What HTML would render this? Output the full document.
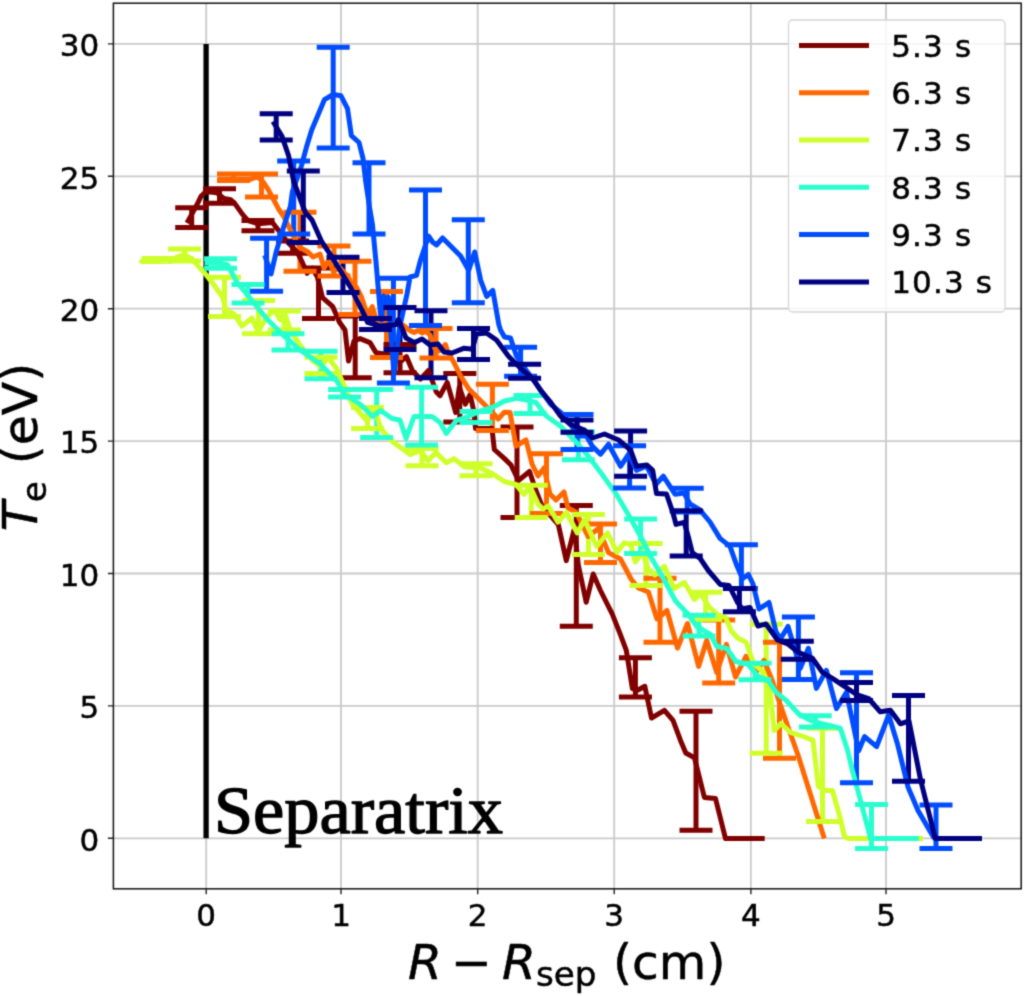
<!DOCTYPE html>
<html lang="en"><head><meta charset="utf-8"><title>Te profile</title>
<style>html,body{margin:0;padding:0;background:#fff}body{width:1025px;height:996px;overflow:hidden}svg{display:block}text{font-family:"DejaVu Sans","Liberation Sans",sans-serif;fill:#000;stroke:#000;stroke-width:0.5px;stroke-linejoin:round}text.ser{font-family:"Liberation Serif","DejaVu Serif",serif;stroke-width:1.3px}</style></head><body>
<svg width="1025" height="996" viewBox="0 0 1025 996">
<defs><filter id="soft" x="0" y="0" width="1025" height="996" filterUnits="userSpaceOnUse" color-interpolation-filters="sRGB"><feConvolveMatrix order="3" kernelMatrix="0.0289 0.1122 0.0289 0.1122 0.4356 0.1122 0.0289 0.1122 0.0289" divisor="1" edgeMode="duplicate" preserveAlpha="true"/></filter></defs>
<rect width="1025" height="996" fill="#fff"/>
<g filter="url(#soft)">
<rect width="1025" height="996" fill="#fff"/>
<path d="M206.2 3.2V888.8M341.0 3.2V888.8M477.7 3.2V888.8M614.2 3.2V888.8M750.9 3.2V888.8M886.0 3.2V888.8M113.4 838.3H1021.2M113.4 705.9H1021.2M113.4 573.5H1021.2M113.4 441.1H1021.2M113.4 308.7H1021.2M113.4 176.3H1021.2M113.4 43.9H1021.2" stroke="#cacaca" stroke-width="1.8" fill="none"/>
<path d="M206.1 43.9V838.3" stroke="#000" stroke-width="5.3" fill="none"/>
<text class="ser" x="214" y="832.5" font-size="67" textLength="289" lengthAdjust="spacingAndGlyphs" fill="#000" stroke="#000" stroke-width="1.3">Separatrix</text>
<path d="M191.7 207.8V227.4M219.5 188.8V203.2M258.0 220.6V230.8M292.6 241.0V253.3M318.5 268.0V318.5M355.2 316.0V377.7M400.0 344.6V372.7M459.8 373.5V422.0M517.0 427.1V517.5M576.3 505.4V626.3M635.4 657.8V697.0M696.0 711.3V830.2" stroke="#800000" stroke-width="5.0" fill="none"/>
<path d="M233.5 174.0V180.6M261.5 174.0V196.9M300.0 212.3V271.3M334.0 245.9V276.0M355.0 261.2V314.5M386.5 291.4V357.6M436.0 328.5V358.0M492.4 384.3V430.5M546.5 453.7V513.5M600.5 523.9V562.5M660.0 578.3V642.3M718.7 620.0V683.0M779.5 642.2V758.3" stroke="#ff6800" stroke-width="5.0" fill="none"/>
<path d="M184.6 249.0V261.0M224.5 277.3V316.5M258.5 300.5V333.8M284.3 311.0V330.0M321.0 357.3V373.4M367.6 407.5V428.6M422.0 448.6V465.7M476.0 463.7V475.7M531.2 485.3V517.5M588.4 514.5V554.6M646.0 543.6V585.5M705.7 592.3V619.3M766.2 624.2V753.2M822.5 728.3V821.5" stroke="#ceff29" stroke-width="5.0" fill="none"/>
<path d="M220.6 258.7V268.3M248.0 284.4V303.0M288.0 333.8V349.9M321.0 351.3V378.8M344.6 389.4V397.0M376.7 389.4V437.6M421.6 387.3V445.0M476.0 411.4V422.5M530.0 395.4V413.5M578.4 432.0V459.8M640.6 519.1V553.6M699.0 615.2V635.9M755.0 663.3V679.8M815.3 715.7V727.1M871.5 804.4V848.6" stroke="#29ffce" stroke-width="5.0" fill="none"/>
<path d="M266.6 238.3V291.3M293.7 161.1V233.9M333.2 47.2V148.0M369.0 162.8V234.1M393.4 278.3V383.0M425.5 190.0V325.5M468.3 219.7V302.8M520.6 347.2V376.3M577.0 414.5V449.6M629.6 445.8V488.0M687.2 488.2V512.0M741.4 544.8V588.6M798.4 617.0V679.4M856.5 672.8V782.7M936.0 805.0V848.6" stroke="#004cff" stroke-width="5.0" fill="none"/>
<path d="M276.2 113.8V140.0M303.3 170.9V242.5M343.0 257.2V292.4M375.5 318.5V329.6M400.0 307.4V349.6M431.0 310.8V377.7M473.5 328.6V359.5M524.6 364.3V378.3M577.0 420.0V432.3M630.6 431.1V476.3M686.2 510.7V556.1M739.4 588.6V611.7M797.3 641.2V659.3M856.5 682.4V700.5M908.5 695.5V781.3" stroke="#000080" stroke-width="5.0" fill="none"/>
<g stroke="#800000" stroke-width="5.0" fill="none">
<path d="M187.0 223.0 L191.7 214.4 L196.4 205.8 L201.0 196.4 L205.5 192.0 L210.0 192.0 L217.0 192.8 L223.8 198.5 L230.8 199.8 L234.7 203.4 L242.5 214.4 L248.0 220.6 L258.0 223.8 L272.4 222.5 L278.8 230.8 L286.6 241.0 L296.8 251.4 L302.0 261.7 L307.1 273.3 L312.3 268.1 L317.4 277.1 L322.5 297.7 L332.8 306.7 L339.3 322.0 L345.0 330.0 L348.5 361.0 L354.0 341.0 L360.0 338.6 L370.0 342.6 L376.0 352.6 L390.0 354.6 L400.0 362.0 L406.4 356.6 L412.4 370.7 L420.5 379.0 L428.5 370.5 L436.3 392.0 L440.0 395.7 L447.2 382.4 L455.7 412.5 L459.3 387.2 L465.3 404.1 L470.1 394.5 L474.0 412.0 L475.5 428.5 L492.0 428.5 L494.3 449.5 L504.5 458.6 L511.0 465.0 L518.4 480.5 L524.0 476.0 L529.5 471.5 L536.3 491.5 L542.2 506.4 L550.0 515.0 L558.3 524.5 L566.3 560.6 L574.4 528.5 L578.3 565.0 L586.2 602.2 L593.2 574.0 L600.2 590.0 L612.3 614.2 L620.3 634.3 L626.3 650.4 L632.4 688.5 L638.0 690.0 L644.8 686.3 L651.5 718.0 L664.4 710.4 L673.0 720.4 L680.6 740.7 L685.8 753.0 L694.5 757.8 L704.4 797.5 L715.5 798.5 L725.5 838.6 L764.7 838.6" stroke-linejoin="round" stroke-linecap="butt"/>
<path d="M175.2 207.8h33.0M175.2 227.4h33.0M203.0 188.8h33.0M203.0 203.2h33.0M241.5 220.6h33.0M241.5 230.8h33.0M276.1 241.0h33.0M276.1 253.3h33.0M302.0 268.0h33.0M302.0 318.5h33.0M338.7 316.0h33.0M338.7 377.7h33.0M383.5 344.6h33.0M383.5 372.7h33.0M443.3 373.5h33.0M443.3 422.0h33.0M500.5 427.1h33.0M500.5 517.5h33.0M559.8 505.4h33.0M559.8 626.3h33.0M618.9 657.8h33.0M618.9 697.0h33.0M679.5 711.3h33.0M679.5 830.2h33.0"/>
</g>
<g stroke="#ff6800" stroke-width="5.0" fill="none">
<path d="M217.5 179.5 L250.0 179.5 L257.5 176.5 L263.5 182.4 L267.4 188.3 L273.3 199.0 L279.0 209.8 L283.4 216.0 L288.6 226.4 L294.0 237.0 L300.0 247.5 L308.0 252.0 L313.0 257.0 L320.0 254.0 L324.0 268.0 L329.0 259.5 L333.0 271.0 L340.0 268.0 L348.0 276.6 L351.8 284.0 L356.6 287.5 L361.4 297.0 L367.5 315.0 L372.3 306.7 L376.0 319.0 L380.0 321.0 L392.0 324.0 L403.3 325.3 L409.0 330.0 L414.0 332.5 L418.0 330.5 L422.0 333.0 L426.0 331.3 L430.0 335.0 L434.6 348.2 L439.0 351.0 L445.4 344.6 L447.8 351.8 L452.7 360.2 L460.4 375.5 L468.4 388.4 L476.4 396.4 L482.4 402.4 L492.4 412.4 L498.3 419.0 L504.3 412.2 L510.0 412.5 L516.0 446.0 L526.0 440.0 L532.0 464.0 L538.0 476.0 L544.0 468.0 L550.0 494.0 L556.0 500.0 L564.0 492.0 L568.0 508.0 L576.0 512.0 L588.0 536.5 L598.5 528.5 L608.5 552.6 L620.5 559.0 L631.0 579.0 L638.4 588.0 L648.4 592.0 L657.0 619.0 L667.0 610.5 L677.5 648.0 L687.5 623.5 L698.6 666.4 L706.7 640.3 L716.7 672.4 L726.4 644.3 L735.5 677.0 L746.0 656.3 L756.0 672.4 L764.0 660.3 L772.0 680.0 L780.0 704.0 L788.0 727.0 L798.0 755.0 L810.0 793.0 L824.3 838.6" stroke-linejoin="round" stroke-linecap="butt"/>
<path d="M217.0 174.0h33.0M217.0 180.6h33.0M245.0 174.0h33.0M245.0 196.9h33.0M283.5 212.3h33.0M283.5 271.3h33.0M317.5 245.9h33.0M317.5 276.0h33.0M338.5 261.2h33.0M338.5 314.5h33.0M370.0 291.4h33.0M370.0 357.6h33.0M419.5 328.5h33.0M419.5 358.0h33.0M475.9 384.3h33.0M475.9 430.5h33.0M530.0 453.7h33.0M530.0 513.5h33.0M584.0 523.9h33.0M584.0 562.5h33.0M643.5 578.3h33.0M643.5 642.3h33.0M702.2 620.0h33.0M702.2 683.0h33.0M763.0 642.2h33.0M763.0 758.3h33.0"/>
</g>
<g stroke="#ceff29" stroke-width="5.0" fill="none">
<path d="M141.6 258.4 L192.0 258.4 L141.6 261.6 L170.0 261.6 L177.0 257.0 L184.6 255.0 L192.0 259.0 L194.0 261.6 L204.5 272.8 L214.0 285.0 L222.5 297.0 L226.0 310.0 L234.0 314.0 L242.0 326.0 L252.0 318.0 L258.0 332.0 L266.0 318.0 L274.3 310.0 L280.3 320.0 L284.3 312.0 L290.4 330.2 L300.0 345.0 L312.4 360.3 L320.5 366.3 L328.5 358.3 L336.5 368.4 L352.6 404.5 L366.7 420.6 L374.7 408.5 L380.7 428.6 L392.4 441.6 L410.0 454.6 L420.0 450.6 L428.2 460.6 L436.0 452.6 L446.3 462.7 L454.0 458.6 L464.3 466.7 L480.4 468.0 L492.2 473.5 L504.3 481.5 L516.0 484.5 L524.0 494.4 L530.0 486.3 L538.2 504.4 L543.0 509.0 L548.4 505.9 L558.0 522.2 L566.5 512.5 L577.3 533.0 L584.6 519.8 L596.6 546.3 L607.5 533.0 L617.1 552.3 L624.3 542.7 L631.0 545.0 L635.2 561.9 L642.4 552.3 L648.4 569.2 L655.0 575.0 L664.3 566.3 L674.3 588.4 L684.4 582.4 L694.4 599.4 L700.4 593.3 L709.5 607.5 L717.5 614.5 L725.5 617.5 L731.6 631.5 L738.0 638.2 L746.0 642.2 L754.0 664.3 L762.0 670.4 L770.2 692.4 L774.2 730.6 L781.0 723.5 L790.2 732.3 L803.0 736.3 L813.0 740.4 L818.3 786.3 L824.3 790.4 L832.4 790.4 L840.4 818.5 L844.4 836.5 L848.4 838.6 L923.0 838.6" stroke-linejoin="round" stroke-linecap="butt"/>
<path d="M168.1 249.0h33.0M168.1 261.0h33.0M208.0 277.3h33.0M208.0 316.5h33.0M242.0 300.5h33.0M242.0 333.8h33.0M267.8 311.0h33.0M267.8 330.0h33.0M304.5 357.3h33.0M304.5 373.4h33.0M351.1 407.5h33.0M351.1 428.6h33.0M405.5 448.6h33.0M405.5 465.7h33.0M459.5 463.7h33.0M459.5 475.7h33.0M514.7 485.3h33.0M514.7 517.5h33.0M571.9 514.5h33.0M571.9 554.6h33.0M629.5 543.6h33.0M629.5 585.5h33.0M689.2 592.3h33.0M689.2 619.3h33.0M749.7 624.2h33.0M749.7 753.2h33.0M806.0 728.3h33.0M806.0 821.5h33.0"/>
</g>
<g stroke="#29ffce" stroke-width="5.0" fill="none">
<path d="M204.5 263.0 L220.6 263.5 L227.7 265.0 L236.7 281.8 L250.0 298.0 L266.0 318.0 L284.3 336.2 L300.4 350.3 L320.5 364.3 L336.5 380.4 L344.6 394.5 L360.6 404.5 L372.7 416.5 L380.7 410.5 L392.0 418.5 L400.0 420.0 L406.0 438.6 L414.0 416.5 L432.0 416.5 L440.0 422.5 L446.3 433.5 L456.3 420.5 L466.0 417.5 L480.4 411.0 L492.4 407.5 L504.5 401.0 L516.5 398.4 L528.0 400.4 L536.0 402.5 L546.3 416.0 L560.3 426.0 L574.4 440.2 L588.4 456.2 L600.5 472.3 L616.5 494.4 L630.6 518.5 L640.6 536.5 L651.5 558.0 L664.3 580.0 L675.5 601.0 L687.5 613.5 L696.6 626.3 L710.5 634.5 L716.7 646.3 L727.0 648.6 L736.0 661.5 L748.0 664.3 L758.0 676.4 L768.0 680.4 L776.2 692.4 L786.3 700.5 L799.0 714.2 L810.3 720.3 L824.3 724.3 L840.4 728.3 L847.5 750.0 L852.4 770.3 L860.5 800.4 L868.5 830.5 L870.5 838.6 L918.7 838.6" stroke-linejoin="round" stroke-linecap="butt"/>
<path d="M204.1 258.7h33.0M204.1 268.3h33.0M231.5 284.4h33.0M231.5 303.0h33.0M271.5 333.8h33.0M271.5 349.9h33.0M304.5 351.3h33.0M304.5 378.8h33.0M328.1 389.4h33.0M328.1 397.0h33.0M360.2 389.4h33.0M360.2 437.6h33.0M405.1 387.3h33.0M405.1 445.0h33.0M459.5 411.4h33.0M459.5 422.5h33.0M513.5 395.4h33.0M513.5 413.5h33.0M561.9 432.0h33.0M561.9 459.8h33.0M624.1 519.1h33.0M624.1 553.6h33.0M682.5 615.2h33.0M682.5 635.9h33.0M738.5 663.3h33.0M738.5 679.8h33.0M798.8 715.7h33.0M798.8 727.1h33.0M855.0 804.4h33.0M855.0 848.6h33.0"/>
</g>
<g stroke="#004cff" stroke-width="5.0" fill="none">
<path d="M264.7 255.3 L271.1 273.9 L276.3 251.4 L284.0 225.7 L290.4 206.4 L292.4 191.7 L301.4 166.0 L306.4 147.3 L311.7 130.0 L324.4 99.7 L333.2 94.5 L341.0 95.8 L347.5 108.7 L351.4 135.7 L359.0 142.5 L363.0 158.3 L365.7 181.4 L369.5 207.0 L372.5 225.0 L376.0 262.0 L380.3 312.4 L381.5 320.0 L383.5 296.0 L386.5 306.0 L388.3 297.0 L394.0 374.0 L399.5 328.0 L407.0 294.0 L410.0 277.0 L416.5 275.3 L420.5 260.2 L428.5 236.0 L432.5 242.0 L436.5 245.0 L442.6 238.0 L450.6 246.0 L460.6 256.0 L468.7 270.3 L474.7 252.0 L480.7 280.3 L486.7 296.4 L492.8 290.4 L498.8 324.5 L500.5 330.0 L504.5 337.0 L510.5 338.0 L516.5 356.2 L524.6 368.3 L536.6 384.3 L550.7 404.4 L560.7 412.4 L570.4 424.0 L578.0 436.0 L586.4 436.0 L592.4 446.2 L600.5 454.2 L608.5 444.2 L620.6 466.3 L628.6 454.2 L636.6 470.3 L646.5 466.2 L656.0 484.2 L663.3 476.2 L675.0 494.2 L684.0 493.0 L690.0 504.0 L700.0 510.0 L710.0 522.0 L720.0 538.4 L730.0 546.4 L736.4 564.5 L742.4 578.6 L748.4 574.5 L753.0 584.0 L759.0 609.0 L769.0 602.5 L776.0 632.0 L780.6 638.8 L788.0 626.5 L796.3 654.3 L800.3 668.4 L808.4 648.3 L816.4 688.4 L826.4 670.4 L836.5 708.5 L846.5 692.4 L858.6 750.7 L864.6 736.6 L876.6 746.7 L888.7 715.0 L897.5 744.0 L908.0 787.0 L918.0 810.4 L934.3 838.6" stroke-linejoin="round" stroke-linecap="butt"/>
<path d="M250.1 238.3h33.0M250.1 291.3h33.0M277.2 161.1h33.0M277.2 233.9h33.0M316.7 47.2h33.0M316.7 148.0h33.0M352.5 162.8h33.0M352.5 234.1h33.0M376.9 278.3h33.0M376.9 383.0h33.0M409.0 190.0h33.0M409.0 325.5h33.0M451.8 219.7h33.0M451.8 302.8h33.0M504.1 347.2h33.0M504.1 376.3h33.0M560.5 414.5h33.0M560.5 449.6h33.0M613.1 445.8h33.0M613.1 488.0h33.0M670.7 488.2h33.0M670.7 512.0h33.0M724.9 544.8h33.0M724.9 588.6h33.0M781.9 617.0h33.0M781.9 679.4h33.0M840.0 672.8h33.0M840.0 782.7h33.0M919.5 805.0h33.0M919.5 848.6h33.0"/>
</g>
<g stroke="#000080" stroke-width="5.0" fill="none">
<path d="M273.0 121.5 L282.0 136.4 L288.6 155.7 L293.7 181.4 L301.4 202.0 L305.3 212.3 L312.0 220.0 L321.7 241.7 L331.3 256.0 L341.0 271.8 L350.6 287.5 L357.8 302.0 L365.0 316.4 L367.5 322.4 L380.0 326.0 L396.4 324.5 L398.4 319.5 L406.0 338.0 L414.5 342.6 L422.0 339.0 L430.0 345.0 L438.0 344.0 L444.0 352.0 L452.0 353.0 L464.3 348.2 L472.4 349.2 L476.4 334.0 L486.4 333.0 L496.5 340.0 L508.5 356.2 L520.6 368.3 L532.6 378.3 L540.6 390.4 L550.7 402.4 L560.5 416.0 L570.5 424.5 L584.4 430.0 L592.4 438.0 L604.5 434.0 L618.6 440.0 L630.6 450.2 L636.6 466.3 L647.0 465.0 L652.7 470.3 L656.5 493.5 L666.5 494.0 L673.0 513.0 L676.0 524.4 L684.2 522.3 L688.2 536.4 L692.2 552.4 L700.2 558.5 L708.3 570.5 L720.2 584.4 L729.0 585.5 L737.5 602.5 L742.4 608.7 L750.0 607.5 L758.0 626.0 L766.0 624.0 L777.5 640.0 L788.3 644.3 L798.3 652.3 L812.4 658.3 L822.4 672.4 L832.4 678.4 L844.5 686.4 L856.5 694.5 L868.6 698.5 L880.3 711.8 L890.4 710.3 L900.4 723.8 L909.0 721.0 L920.5 779.5 L935.3 838.6 L982.0 838.6" stroke-linejoin="round" stroke-linecap="butt"/>
<path d="M259.7 113.8h33.0M259.7 140.0h33.0M286.8 170.9h33.0M286.8 242.5h33.0M326.5 257.2h33.0M326.5 292.4h33.0M359.0 318.5h33.0M359.0 329.6h33.0M383.5 307.4h33.0M383.5 349.6h33.0M414.5 310.8h33.0M414.5 377.7h33.0M457.0 328.6h33.0M457.0 359.5h33.0M508.1 364.3h33.0M508.1 378.3h33.0M560.5 420.0h33.0M560.5 432.3h33.0M614.1 431.1h33.0M614.1 476.3h33.0M669.7 510.7h33.0M669.7 556.1h33.0M722.9 588.6h33.0M722.9 611.7h33.0M780.8 641.2h33.0M780.8 659.3h33.0M840.0 682.4h33.0M840.0 700.5h33.0M892.0 695.5h33.0M892.0 781.3h33.0"/>
</g>
<rect x="113.4" y="3.2" width="907.8" height="885.6" fill="none" stroke="#111" stroke-width="1.5"/>
<path d="M206.2 888.8v5.5M341.0 888.8v5.5M477.7 888.8v5.5M614.2 888.8v5.5M750.9 888.8v5.5M886.0 888.8v5.5M113.4 838.3h-5.5M113.4 705.9h-5.5M113.4 573.5h-5.5M113.4 441.1h-5.5M113.4 308.7h-5.5M113.4 176.3h-5.5M113.4 43.9h-5.5" stroke="#222" stroke-width="1.4" fill="none"/>
<text x="206.2" y="926" font-size="31" text-anchor="middle">0</text>
<text x="341.0" y="926" font-size="31" text-anchor="middle">1</text>
<text x="477.7" y="926" font-size="31" text-anchor="middle">2</text>
<text x="614.2" y="926" font-size="31" text-anchor="middle">3</text>
<text x="750.9" y="926" font-size="31" text-anchor="middle">4</text>
<text x="886.0" y="926" font-size="31" text-anchor="middle">5</text>
<text x="99.2" y="850.6" font-size="31" text-anchor="end">0</text>
<text x="99.2" y="718.2" font-size="31" text-anchor="end">5</text>
<text x="99.2" y="585.8" font-size="31" text-anchor="end">10</text>
<text x="99.2" y="453.4" font-size="31" text-anchor="end">15</text>
<text x="99.2" y="321.0" font-size="31" text-anchor="end">20</text>
<text x="99.2" y="188.6" font-size="31" text-anchor="end">25</text>
<text x="99.2" y="56.2" font-size="31" text-anchor="end">30</text>
<text x="408" y="979" font-size="48.8"><tspan font-style="italic">R</tspan><tspan x="451">−</tspan><tspan x="502" font-style="italic">R</tspan><tspan x="536" dy="7" font-size="34.2">sep</tspan><tspan x="613" dy="-7">(cm)</tspan></text>
<g transform="translate(37.2,531.3) rotate(-90)"><text x="0" y="0" font-size="48.8"><tspan font-style="italic">T</tspan><tspan x="29" dy="8.5" font-size="34.2">e</tspan><tspan x="67" dy="-8.5">(eV)</tspan></text></g>
<rect x="788.5" y="20" width="216.5" height="292" rx="4" ry="4" fill="#fff" fill-opacity="0.8" stroke="#d6d6d6" stroke-width="1.3"/>
<path d="M799 45.4H869" stroke="#800000" stroke-width="5.0"/>
<text x="891.2" y="56.7" font-size="31" letter-spacing="1.15">5.3 s</text>
<path d="M799 92.7H869" stroke="#ff6800" stroke-width="5.0"/>
<text x="891.2" y="104.0" font-size="31" letter-spacing="1.15">6.3 s</text>
<path d="M799 140.0H869" stroke="#ceff29" stroke-width="5.0"/>
<text x="891.2" y="151.3" font-size="31" letter-spacing="1.15">7.3 s</text>
<path d="M799 187.3H869" stroke="#29ffce" stroke-width="5.0"/>
<text x="891.2" y="198.6" font-size="31" letter-spacing="1.15">8.3 s</text>
<path d="M799 234.6H869" stroke="#004cff" stroke-width="5.0"/>
<text x="891.2" y="245.9" font-size="31" letter-spacing="1.15">9.3 s</text>
<path d="M799 281.9H869" stroke="#000080" stroke-width="5.0"/>
<text x="891.2" y="293.2" font-size="31" letter-spacing="1.15">10.3 s</text>
</g>
</svg></body></html>
